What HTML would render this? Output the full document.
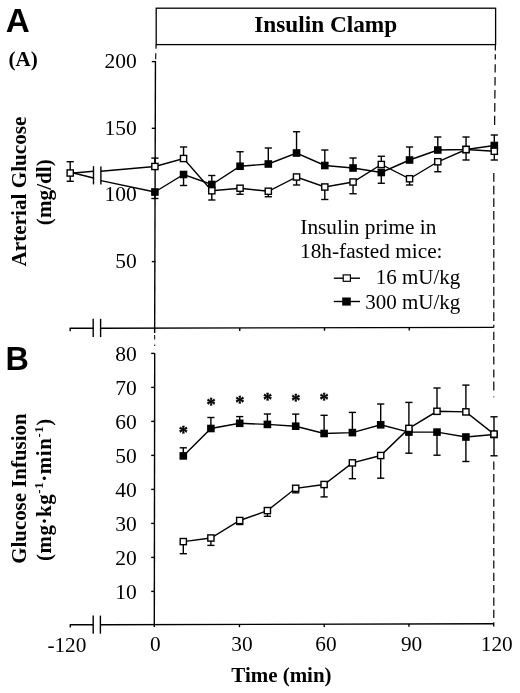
<!DOCTYPE html>
<html lang="en"><head><meta charset="utf-8"><title>Insulin Clamp</title>
<style>
html,body{margin:0;padding:0;background:#fff;}
body{width:520px;height:693px;overflow:hidden;}
svg{display:block;}

svg text{fill:#000;}
</style></head><body>
<svg width="520" height="693" viewBox="0 0 520 693">
<rect x="0" y="0" width="520" height="693" fill="#fff" stroke="none"/>
<g stroke="#000" stroke-linecap="butt">
<rect x="156.2" y="8.2" width="339.4" height="36.4" fill="none" stroke-width="1.3"/>
<line x1="495.40" y1="44.60" x2="495.35" y2="50.60" stroke-width="1.2"/>
<line x1="495.3" y1="54.3" x2="494.6" y2="127.6" stroke-width="1.2" stroke-dasharray="5.3 4.6 8.4 4.5 8.4 4.5 8.6 4.3 8.8 4.1 9.3 2.3 1 100"/>
<line x1="493.8" y1="173" x2="493.8" y2="327.4" stroke-width="1.2" stroke-dasharray="8.8 3.85"/>
<line x1="493.8" y1="331.7" x2="493.8" y2="397.3" stroke-width="1.2" stroke-dasharray="8.3 4 8.6 4 8 4.8 8 4 9 6 1 100"/>
<line x1="493.8" y1="461.6" x2="493.8" y2="623.8" stroke-width="1.2" stroke-dasharray="8.2 4.15"/>
<line x1="155.45" y1="61.00" x2="154.65" y2="333.00" stroke-width="1.4"/>
<line x1="151.80" y1="61.60" x2="155.50" y2="61.60" stroke-width="1.4"/>
<line x1="151.80" y1="128.30" x2="155.50" y2="128.30" stroke-width="1.4"/>
<line x1="151.80" y1="194.90" x2="155.50" y2="194.90" stroke-width="1.4"/>
<line x1="151.80" y1="261.60" x2="155.50" y2="261.60" stroke-width="1.4"/>
<line x1="156.10" y1="44.60" x2="156.00" y2="48.70" stroke-width="1.2"/>
<line x1="155.80" y1="53.30" x2="155.70" y2="59.20" stroke-width="1.1"/>
<line x1="69.70" y1="328.30" x2="93.20" y2="328.25" stroke-width="1.4"/>
<line x1="100.60" y1="328.24" x2="493.80" y2="327.41" stroke-width="1.4"/>
<line x1="70.20" y1="328.30" x2="70.20" y2="331.30" stroke-width="1.4"/>
<line x1="239.75" y1="327.94" x2="239.75" y2="330.94" stroke-width="1.4"/>
<line x1="324.50" y1="327.76" x2="324.50" y2="330.76" stroke-width="1.4"/>
<line x1="409.25" y1="327.59" x2="409.25" y2="330.59" stroke-width="1.4"/>
<line x1="93.20" y1="318.80" x2="93.20" y2="337.10" stroke-width="1.4"/>
<line x1="100.60" y1="318.80" x2="100.60" y2="337.10" stroke-width="1.4"/>
<line x1="154.70" y1="335.00" x2="154.70" y2="339.50" stroke-width="1.0"/>
<line x1="154.70" y1="344.50" x2="154.70" y2="346.00" stroke-width="1.0"/>
<line x1="154.70" y1="353.20" x2="154.30" y2="627.00" stroke-width="1.4"/>
<line x1="151.20" y1="591.40" x2="154.60" y2="591.40" stroke-width="1.4"/>
<line x1="151.20" y1="557.40" x2="154.60" y2="557.40" stroke-width="1.4"/>
<line x1="151.20" y1="523.40" x2="154.60" y2="523.40" stroke-width="1.4"/>
<line x1="151.20" y1="489.40" x2="154.60" y2="489.40" stroke-width="1.4"/>
<line x1="151.20" y1="455.40" x2="154.60" y2="455.40" stroke-width="1.4"/>
<line x1="151.20" y1="421.40" x2="154.60" y2="421.40" stroke-width="1.4"/>
<line x1="151.20" y1="387.40" x2="154.60" y2="387.40" stroke-width="1.4"/>
<line x1="151.20" y1="353.40" x2="154.60" y2="353.40" stroke-width="1.4"/>
<line x1="69.80" y1="624.80" x2="93.20" y2="624.74" stroke-width="1.4"/>
<line x1="100.40" y1="624.73" x2="493.80" y2="623.78" stroke-width="1.4"/>
<line x1="70.30" y1="624.80" x2="70.30" y2="627.60" stroke-width="1.4"/>
<line x1="239.45" y1="624.39" x2="239.45" y2="627.19" stroke-width="1.4"/>
<line x1="324.20" y1="624.19" x2="324.20" y2="626.99" stroke-width="1.4"/>
<line x1="408.95" y1="623.99" x2="408.95" y2="626.79" stroke-width="1.4"/>
<line x1="493.70" y1="623.78" x2="493.70" y2="626.58" stroke-width="1.4"/>
<line x1="93.20" y1="615.60" x2="93.20" y2="633.70" stroke-width="1.4"/>
<line x1="100.40" y1="615.60" x2="100.40" y2="633.70" stroke-width="1.4"/>
<line x1="70.20" y1="173.00" x2="70.20" y2="161.70" stroke-width="1.4"/>
<line x1="66.60" y1="161.70" x2="73.80" y2="161.70" stroke-width="1.4"/>
<line x1="70.20" y1="173.00" x2="70.20" y2="181.30" stroke-width="1.4"/>
<line x1="66.60" y1="181.30" x2="73.80" y2="181.30" stroke-width="1.4"/>
<line x1="73.50" y1="173.00" x2="93.50" y2="171.20" stroke-width="1.4"/>
<line x1="73.50" y1="173.00" x2="93.50" y2="178.00" stroke-width="1.4"/>
<line x1="93.50" y1="166.20" x2="93.50" y2="184.40" stroke-width="1.4"/>
<line x1="100.90" y1="166.50" x2="100.90" y2="184.60" stroke-width="1.4"/>
<line x1="100.90" y1="171.20" x2="154.90" y2="166.50" stroke-width="1.4"/>
<line x1="100.90" y1="180.60" x2="154.90" y2="192.00" stroke-width="1.4"/>
<rect x="67.10" y="169.90" width="6.199999999999999" height="6.199999999999999" fill="#fff" stroke-width="1.4"/>
<line x1="154.90" y1="192.00" x2="154.90" y2="198.50" stroke-width="1.4"/>
<line x1="151.30" y1="198.50" x2="158.50" y2="198.50" stroke-width="1.4"/>
<line x1="183.55" y1="174.50" x2="183.55" y2="185.50" stroke-width="1.4"/>
<line x1="179.95" y1="185.50" x2="187.15" y2="185.50" stroke-width="1.4"/>
<line x1="211.80" y1="184.50" x2="211.80" y2="175.50" stroke-width="1.4"/>
<line x1="208.20" y1="175.50" x2="215.40" y2="175.50" stroke-width="1.4"/>
<line x1="240.05" y1="166.25" x2="240.05" y2="151.75" stroke-width="1.4"/>
<line x1="236.45" y1="151.75" x2="243.65" y2="151.75" stroke-width="1.4"/>
<line x1="268.30" y1="164.00" x2="268.30" y2="148.00" stroke-width="1.4"/>
<line x1="264.70" y1="148.00" x2="271.90" y2="148.00" stroke-width="1.4"/>
<line x1="296.55" y1="153.00" x2="296.55" y2="131.75" stroke-width="1.4"/>
<line x1="292.95" y1="131.75" x2="300.15" y2="131.75" stroke-width="1.4"/>
<line x1="324.80" y1="165.50" x2="324.80" y2="150.00" stroke-width="1.4"/>
<line x1="321.20" y1="150.00" x2="328.40" y2="150.00" stroke-width="1.4"/>
<line x1="353.05" y1="168.00" x2="353.05" y2="158.00" stroke-width="1.4"/>
<line x1="349.45" y1="158.00" x2="356.65" y2="158.00" stroke-width="1.4"/>
<line x1="381.30" y1="172.50" x2="381.30" y2="183.25" stroke-width="1.4"/>
<line x1="377.70" y1="183.25" x2="384.90" y2="183.25" stroke-width="1.4"/>
<line x1="409.55" y1="160.00" x2="409.55" y2="147.00" stroke-width="1.4"/>
<line x1="405.95" y1="147.00" x2="413.15" y2="147.00" stroke-width="1.4"/>
<line x1="437.80" y1="150.00" x2="437.80" y2="137.00" stroke-width="1.4"/>
<line x1="434.20" y1="137.00" x2="441.40" y2="137.00" stroke-width="1.4"/>
<line x1="494.30" y1="145.50" x2="494.30" y2="135.00" stroke-width="1.4"/>
<line x1="490.70" y1="135.00" x2="497.90" y2="135.00" stroke-width="1.4"/>
<polyline fill="none" stroke-width="1.4" points="154.90,192.00 183.55,174.50 211.80,184.50 240.05,166.25 268.30,164.00 296.55,153.00 324.80,165.50 353.05,168.00 381.30,172.50 409.55,160.00 437.80,150.00 466.05,149.50 494.30,145.50"/>
<rect x="151.10" y="188.20" width="7.6" height="7.6" fill="#000" stroke="none"/>
<rect x="179.75" y="170.70" width="7.6" height="7.6" fill="#000" stroke="none"/>
<rect x="208.00" y="180.70" width="7.6" height="7.6" fill="#000" stroke="none"/>
<rect x="236.25" y="162.45" width="7.6" height="7.6" fill="#000" stroke="none"/>
<rect x="264.50" y="160.20" width="7.6" height="7.6" fill="#000" stroke="none"/>
<rect x="292.75" y="149.20" width="7.6" height="7.6" fill="#000" stroke="none"/>
<rect x="321.00" y="161.70" width="7.6" height="7.6" fill="#000" stroke="none"/>
<rect x="349.25" y="164.20" width="7.6" height="7.6" fill="#000" stroke="none"/>
<rect x="377.50" y="168.70" width="7.6" height="7.6" fill="#000" stroke="none"/>
<rect x="405.75" y="156.20" width="7.6" height="7.6" fill="#000" stroke="none"/>
<rect x="434.00" y="146.20" width="7.6" height="7.6" fill="#000" stroke="none"/>
<rect x="462.25" y="145.70" width="7.6" height="7.6" fill="#000" stroke="none"/>
<rect x="490.50" y="141.70" width="7.6" height="7.6" fill="#000" stroke="none"/>
<line x1="154.90" y1="166.50" x2="154.90" y2="158.10" stroke-width="1.4"/>
<line x1="151.30" y1="158.10" x2="158.50" y2="158.10" stroke-width="1.4"/>
<line x1="183.55" y1="158.50" x2="183.55" y2="147.00" stroke-width="1.4"/>
<line x1="179.95" y1="147.00" x2="187.15" y2="147.00" stroke-width="1.4"/>
<line x1="211.80" y1="190.75" x2="211.80" y2="200.00" stroke-width="1.4"/>
<line x1="208.20" y1="200.00" x2="215.40" y2="200.00" stroke-width="1.4"/>
<line x1="240.05" y1="188.25" x2="240.05" y2="194.25" stroke-width="1.4"/>
<line x1="236.45" y1="194.25" x2="243.65" y2="194.25" stroke-width="1.4"/>
<line x1="268.30" y1="191.25" x2="268.30" y2="196.75" stroke-width="1.4"/>
<line x1="264.70" y1="196.75" x2="271.90" y2="196.75" stroke-width="1.4"/>
<line x1="296.55" y1="177.00" x2="296.55" y2="185.00" stroke-width="1.4"/>
<line x1="292.95" y1="185.00" x2="300.15" y2="185.00" stroke-width="1.4"/>
<line x1="324.80" y1="187.00" x2="324.80" y2="199.50" stroke-width="1.4"/>
<line x1="321.20" y1="199.50" x2="328.40" y2="199.50" stroke-width="1.4"/>
<line x1="353.05" y1="182.00" x2="353.05" y2="193.75" stroke-width="1.4"/>
<line x1="349.45" y1="193.75" x2="356.65" y2="193.75" stroke-width="1.4"/>
<line x1="381.30" y1="164.50" x2="381.30" y2="156.25" stroke-width="1.4"/>
<line x1="377.70" y1="156.25" x2="384.90" y2="156.25" stroke-width="1.4"/>
<line x1="409.55" y1="178.75" x2="409.55" y2="185.00" stroke-width="1.4"/>
<line x1="405.95" y1="185.00" x2="413.15" y2="185.00" stroke-width="1.4"/>
<line x1="437.80" y1="161.75" x2="437.80" y2="171.75" stroke-width="1.4"/>
<line x1="434.20" y1="171.75" x2="441.40" y2="171.75" stroke-width="1.4"/>
<line x1="466.05" y1="149.50" x2="466.05" y2="137.00" stroke-width="1.4"/>
<line x1="462.45" y1="137.00" x2="469.65" y2="137.00" stroke-width="1.4"/>
<line x1="466.05" y1="149.50" x2="466.05" y2="160.00" stroke-width="1.4"/>
<line x1="462.45" y1="160.00" x2="469.65" y2="160.00" stroke-width="1.4"/>
<line x1="494.30" y1="151.25" x2="494.30" y2="160.00" stroke-width="1.4"/>
<line x1="490.70" y1="160.00" x2="497.90" y2="160.00" stroke-width="1.4"/>
<polyline fill="none" stroke-width="1.4" points="154.90,166.50 183.55,158.50 211.80,190.75 240.05,188.25 268.30,191.25 296.55,177.00 324.80,187.00 353.05,182.00 381.30,164.50 409.55,178.75 437.80,161.75 466.05,149.50 494.30,151.25"/>
<rect x="151.80" y="163.40" width="6.199999999999999" height="6.199999999999999" fill="#fff" stroke-width="1.4"/>
<rect x="180.45" y="155.40" width="6.199999999999999" height="6.199999999999999" fill="#fff" stroke-width="1.4"/>
<rect x="208.70" y="187.65" width="6.199999999999999" height="6.199999999999999" fill="#fff" stroke-width="1.4"/>
<rect x="236.95" y="185.15" width="6.199999999999999" height="6.199999999999999" fill="#fff" stroke-width="1.4"/>
<rect x="265.20" y="188.15" width="6.199999999999999" height="6.199999999999999" fill="#fff" stroke-width="1.4"/>
<rect x="293.45" y="173.90" width="6.199999999999999" height="6.199999999999999" fill="#fff" stroke-width="1.4"/>
<rect x="321.70" y="183.90" width="6.199999999999999" height="6.199999999999999" fill="#fff" stroke-width="1.4"/>
<rect x="349.95" y="178.90" width="6.199999999999999" height="6.199999999999999" fill="#fff" stroke-width="1.4"/>
<rect x="378.20" y="161.40" width="6.199999999999999" height="6.199999999999999" fill="#fff" stroke-width="1.4"/>
<rect x="406.45" y="175.65" width="6.199999999999999" height="6.199999999999999" fill="#fff" stroke-width="1.4"/>
<rect x="434.70" y="158.65" width="6.199999999999999" height="6.199999999999999" fill="#fff" stroke-width="1.4"/>
<rect x="462.95" y="146.40" width="6.199999999999999" height="6.199999999999999" fill="#fff" stroke-width="1.4"/>
<rect x="491.20" y="148.15" width="6.199999999999999" height="6.199999999999999" fill="#fff" stroke-width="1.4"/>
<line x1="183.30" y1="455.90" x2="183.30" y2="447.80" stroke-width="1.4"/>
<line x1="179.70" y1="447.80" x2="186.90" y2="447.80" stroke-width="1.4"/>
<line x1="210.90" y1="428.50" x2="210.90" y2="417.50" stroke-width="1.4"/>
<line x1="207.30" y1="417.50" x2="214.50" y2="417.50" stroke-width="1.4"/>
<line x1="239.70" y1="423.30" x2="239.70" y2="416.60" stroke-width="1.4"/>
<line x1="236.10" y1="416.60" x2="243.30" y2="416.60" stroke-width="1.4"/>
<line x1="267.40" y1="424.40" x2="267.40" y2="414.00" stroke-width="1.4"/>
<line x1="263.80" y1="414.00" x2="271.00" y2="414.00" stroke-width="1.4"/>
<line x1="295.70" y1="426.20" x2="295.70" y2="414.10" stroke-width="1.4"/>
<line x1="292.10" y1="414.10" x2="299.30" y2="414.10" stroke-width="1.4"/>
<line x1="324.10" y1="433.50" x2="324.10" y2="415.30" stroke-width="1.4"/>
<line x1="320.50" y1="415.30" x2="327.70" y2="415.30" stroke-width="1.4"/>
<line x1="352.40" y1="432.60" x2="352.40" y2="412.40" stroke-width="1.4"/>
<line x1="348.80" y1="412.40" x2="356.00" y2="412.40" stroke-width="1.4"/>
<line x1="380.70" y1="424.80" x2="380.70" y2="404.00" stroke-width="1.4"/>
<line x1="377.10" y1="404.00" x2="384.30" y2="404.00" stroke-width="1.4"/>
<line x1="408.90" y1="432.10" x2="408.90" y2="453.20" stroke-width="1.4"/>
<line x1="405.30" y1="453.20" x2="412.50" y2="453.20" stroke-width="1.4"/>
<line x1="437.00" y1="432.10" x2="437.00" y2="455.20" stroke-width="1.4"/>
<line x1="433.40" y1="455.20" x2="440.60" y2="455.20" stroke-width="1.4"/>
<line x1="465.90" y1="437.00" x2="465.90" y2="461.50" stroke-width="1.4"/>
<line x1="462.30" y1="461.50" x2="469.50" y2="461.50" stroke-width="1.4"/>
<polyline fill="none" stroke-width="1.4" points="183.30,455.90 210.90,428.50 239.70,423.30 267.40,424.40 295.70,426.20 324.10,433.50 352.40,432.60 380.70,424.80 408.90,432.10 437.00,432.10 465.90,437.00 494.00,434.50"/>
<rect x="179.50" y="452.10" width="7.6" height="7.6" fill="#000" stroke="none"/>
<rect x="207.10" y="424.70" width="7.6" height="7.6" fill="#000" stroke="none"/>
<rect x="235.90" y="419.50" width="7.6" height="7.6" fill="#000" stroke="none"/>
<rect x="263.60" y="420.60" width="7.6" height="7.6" fill="#000" stroke="none"/>
<rect x="291.90" y="422.40" width="7.6" height="7.6" fill="#000" stroke="none"/>
<rect x="320.30" y="429.70" width="7.6" height="7.6" fill="#000" stroke="none"/>
<rect x="348.60" y="428.80" width="7.6" height="7.6" fill="#000" stroke="none"/>
<rect x="376.90" y="421.00" width="7.6" height="7.6" fill="#000" stroke="none"/>
<rect x="405.10" y="428.30" width="7.6" height="7.6" fill="#000" stroke="none"/>
<rect x="433.20" y="428.30" width="7.6" height="7.6" fill="#000" stroke="none"/>
<rect x="462.10" y="433.20" width="7.6" height="7.6" fill="#000" stroke="none"/>
<rect x="490.20" y="430.70" width="7.6" height="7.6" fill="#000" stroke="none"/>
<line x1="183.30" y1="541.60" x2="183.30" y2="553.70" stroke-width="1.4"/>
<line x1="179.70" y1="553.70" x2="186.90" y2="553.70" stroke-width="1.4"/>
<line x1="210.90" y1="538.00" x2="210.90" y2="545.40" stroke-width="1.4"/>
<line x1="207.30" y1="545.40" x2="214.50" y2="545.40" stroke-width="1.4"/>
<line x1="239.70" y1="520.50" x2="239.70" y2="524.50" stroke-width="1.4"/>
<line x1="236.10" y1="524.50" x2="243.30" y2="524.50" stroke-width="1.4"/>
<line x1="267.40" y1="510.60" x2="267.40" y2="516.30" stroke-width="1.4"/>
<line x1="263.80" y1="516.30" x2="271.00" y2="516.30" stroke-width="1.4"/>
<line x1="295.70" y1="488.30" x2="295.70" y2="492.80" stroke-width="1.4"/>
<line x1="292.10" y1="492.80" x2="299.30" y2="492.80" stroke-width="1.4"/>
<line x1="324.10" y1="484.50" x2="324.10" y2="496.90" stroke-width="1.4"/>
<line x1="320.50" y1="496.90" x2="327.70" y2="496.90" stroke-width="1.4"/>
<line x1="352.40" y1="462.90" x2="352.40" y2="478.70" stroke-width="1.4"/>
<line x1="348.80" y1="478.70" x2="356.00" y2="478.70" stroke-width="1.4"/>
<line x1="380.70" y1="455.50" x2="380.70" y2="478.20" stroke-width="1.4"/>
<line x1="377.10" y1="478.20" x2="384.30" y2="478.20" stroke-width="1.4"/>
<line x1="408.90" y1="428.40" x2="408.90" y2="402.40" stroke-width="1.4"/>
<line x1="405.30" y1="402.40" x2="412.50" y2="402.40" stroke-width="1.4"/>
<line x1="437.00" y1="411.30" x2="437.00" y2="388.00" stroke-width="1.4"/>
<line x1="433.40" y1="388.00" x2="440.60" y2="388.00" stroke-width="1.4"/>
<line x1="465.90" y1="411.90" x2="465.90" y2="385.10" stroke-width="1.4"/>
<line x1="462.30" y1="385.10" x2="469.50" y2="385.10" stroke-width="1.4"/>
<line x1="494.00" y1="434.10" x2="494.00" y2="416.80" stroke-width="1.4"/>
<line x1="490.40" y1="416.80" x2="497.60" y2="416.80" stroke-width="1.4"/>
<line x1="494.00" y1="434.10" x2="494.00" y2="455.80" stroke-width="1.4"/>
<line x1="490.40" y1="455.80" x2="497.60" y2="455.80" stroke-width="1.4"/>
<polyline fill="none" stroke-width="1.4" points="183.30,541.60 210.90,538.00 239.70,520.50 267.40,510.60 295.70,488.30 324.10,484.50 352.40,462.90 380.70,455.50 408.90,428.40 437.00,411.30 465.90,411.90 494.00,434.10"/>
<rect x="180.20" y="538.50" width="6.199999999999999" height="6.199999999999999" fill="#fff" stroke-width="1.4"/>
<rect x="207.80" y="534.90" width="6.199999999999999" height="6.199999999999999" fill="#fff" stroke-width="1.4"/>
<rect x="236.60" y="517.40" width="6.199999999999999" height="6.199999999999999" fill="#fff" stroke-width="1.4"/>
<rect x="264.30" y="507.50" width="6.199999999999999" height="6.199999999999999" fill="#fff" stroke-width="1.4"/>
<rect x="292.60" y="485.20" width="6.199999999999999" height="6.199999999999999" fill="#fff" stroke-width="1.4"/>
<rect x="321.00" y="481.40" width="6.199999999999999" height="6.199999999999999" fill="#fff" stroke-width="1.4"/>
<rect x="349.30" y="459.80" width="6.199999999999999" height="6.199999999999999" fill="#fff" stroke-width="1.4"/>
<rect x="377.60" y="452.40" width="6.199999999999999" height="6.199999999999999" fill="#fff" stroke-width="1.4"/>
<rect x="405.80" y="425.30" width="6.199999999999999" height="6.199999999999999" fill="#fff" stroke-width="1.4"/>
<rect x="433.90" y="408.20" width="6.199999999999999" height="6.199999999999999" fill="#fff" stroke-width="1.4"/>
<rect x="462.80" y="408.80" width="6.199999999999999" height="6.199999999999999" fill="#fff" stroke-width="1.4"/>
<rect x="490.90" y="431.00" width="6.199999999999999" height="6.199999999999999" fill="#fff" stroke-width="1.4"/>
<line x1="333.80" y1="278.20" x2="360.00" y2="278.20" stroke-width="1.4"/>
<rect x="343.2" y="274.9" width="7.2" height="6.4" fill="#fff" stroke-width="1.2"/>
<line x1="333.80" y1="301.50" x2="360.00" y2="301.50" stroke-width="1.4"/>
<rect x="342.2" y="297.5" width="8.6" height="8.1" fill="#000" stroke="none"/>
</g>
<g>
<text x="5.8" y="32.4" font-size="33.2" font-family='"Liberation Sans", sans-serif' font-weight="bold" text-anchor="start">A</text>
<text x="5.4" y="370.1" font-size="32.4" font-family='"Liberation Sans", sans-serif' font-weight="bold" text-anchor="start">B</text>
<text x="8.4" y="66.4" font-size="21.2" font-family='"Liberation Serif", serif' font-weight="bold" text-anchor="start">(A)</text>
<text x="325.7" y="32.2" font-size="23.3" font-family='"Liberation Serif", serif' font-weight="bold" text-anchor="middle">Insulin Clamp</text>
<text x="136.8" y="67.9" font-size="21.5" font-family='"Liberation Serif", serif' font-weight="normal" text-anchor="end">200</text>
<text x="136.8" y="134.60000000000002" font-size="21.5" font-family='"Liberation Serif", serif' font-weight="normal" text-anchor="end">150</text>
<text x="136.8" y="201.20000000000002" font-size="21.5" font-family='"Liberation Serif", serif' font-weight="normal" text-anchor="end">100</text>
<text x="136.8" y="267.90000000000003" font-size="21.5" font-family='"Liberation Serif", serif' font-weight="normal" text-anchor="end">50</text>
<text x="136.8" y="598.8" font-size="21.5" font-family='"Liberation Serif", serif' font-weight="normal" text-anchor="end">10</text>
<text x="136.8" y="564.8" font-size="21.5" font-family='"Liberation Serif", serif' font-weight="normal" text-anchor="end">20</text>
<text x="136.8" y="530.8" font-size="21.5" font-family='"Liberation Serif", serif' font-weight="normal" text-anchor="end">30</text>
<text x="136.8" y="496.79999999999995" font-size="21.5" font-family='"Liberation Serif", serif' font-weight="normal" text-anchor="end">40</text>
<text x="136.8" y="462.79999999999995" font-size="21.5" font-family='"Liberation Serif", serif' font-weight="normal" text-anchor="end">50</text>
<text x="136.8" y="428.79999999999995" font-size="21.5" font-family='"Liberation Serif", serif' font-weight="normal" text-anchor="end">60</text>
<text x="136.8" y="394.79999999999995" font-size="21.5" font-family='"Liberation Serif", serif' font-weight="normal" text-anchor="end">70</text>
<text x="136.8" y="360.79999999999995" font-size="21.5" font-family='"Liberation Serif", serif' font-weight="normal" text-anchor="end">80</text>
<text x="66.9" y="651.50" font-size="21.3" font-family='"Liberation Serif", serif' font-weight="normal" text-anchor="middle">-120</text>
<text x="155.3" y="651.35" font-size="21.3" font-family='"Liberation Serif", serif' font-weight="normal" text-anchor="middle">0</text>
<text x="242" y="651.20" font-size="21.3" font-family='"Liberation Serif", serif' font-weight="normal" text-anchor="middle">30</text>
<text x="326" y="651.06" font-size="21.3" font-family='"Liberation Serif", serif' font-weight="normal" text-anchor="middle">60</text>
<text x="411.6" y="650.91" font-size="21.3" font-family='"Liberation Serif", serif' font-weight="normal" text-anchor="middle">90</text>
<text x="496.8" y="650.77" font-size="21.3" font-family='"Liberation Serif", serif' font-weight="normal" text-anchor="middle">120</text>
<text x="231.3" y="682.1" font-size="20.95" font-family='"Liberation Serif", serif' font-weight="bold" text-anchor="start">Time (min)</text>
<text x="300.3" y="233.9" font-size="21.3" font-family='"Liberation Serif", serif' font-weight="normal" text-anchor="start">Insulin prime in</text>
<text x="300" y="258.3" font-size="21.3" font-family='"Liberation Serif", serif' font-weight="normal" text-anchor="start">18h-fasted mice:</text>
<text x="460.3" y="284.1" font-size="21" font-family='"Liberation Serif", serif' font-weight="normal" text-anchor="end">16 mU/kg</text>
<text x="460.3" y="308.9" font-size="21" font-family='"Liberation Serif", serif' font-weight="normal" text-anchor="end">300 mU/kg</text>
<text transform="translate(26,191.5) rotate(-90)" letter-spacing="0" font-size="21.2" font-family='"Liberation Serif", serif' font-weight="bold" text-anchor="middle">Arterial Glucose</text>
<text transform="translate(50.6,192.2) rotate(-90)" letter-spacing="0" font-size="21.2" font-family='"Liberation Serif", serif' font-weight="bold" text-anchor="middle">(mg/dl)</text>
<text transform="translate(26,488.6) rotate(-90)" letter-spacing="0" font-size="20.9" font-family='"Liberation Serif", serif' font-weight="bold" text-anchor="middle">Glucose Infusion</text>
<text transform="translate(50.6,489.6) rotate(-90)" letter-spacing="0.6" font-size="20.9" font-family='"Liberation Serif", serif' font-weight="bold" text-anchor="middle">(mg·kg<tspan font-size="12.8" dy="-7.6">-1</tspan><tspan dy="7.6">·min</tspan><tspan font-size="12.8" dy="-7.6">-1</tspan><tspan dy="7.6">)</tspan></text>
<text x="183.40" y="438.80" font-size="18.4" font-family='"Liberation Serif", serif' font-weight="bold" text-anchor="middle" stroke="#000" stroke-width="0.45">*</text>
<text x="211.00" y="411.00" font-size="18.4" font-family='"Liberation Serif", serif' font-weight="bold" text-anchor="middle" stroke="#000" stroke-width="0.45">*</text>
<text x="239.80" y="409.10" font-size="18.4" font-family='"Liberation Serif", serif' font-weight="bold" text-anchor="middle" stroke="#000" stroke-width="0.45">*</text>
<text x="267.50" y="405.60" font-size="18.4" font-family='"Liberation Serif", serif' font-weight="bold" text-anchor="middle" stroke="#000" stroke-width="0.45">*</text>
<text x="295.80" y="406.80" font-size="18.4" font-family='"Liberation Serif", serif' font-weight="bold" text-anchor="middle" stroke="#000" stroke-width="0.45">*</text>
<text x="324.20" y="406.20" font-size="18.4" font-family='"Liberation Serif", serif' font-weight="bold" text-anchor="middle" stroke="#000" stroke-width="0.45">*</text>
</g>
</svg>
</body></html>
